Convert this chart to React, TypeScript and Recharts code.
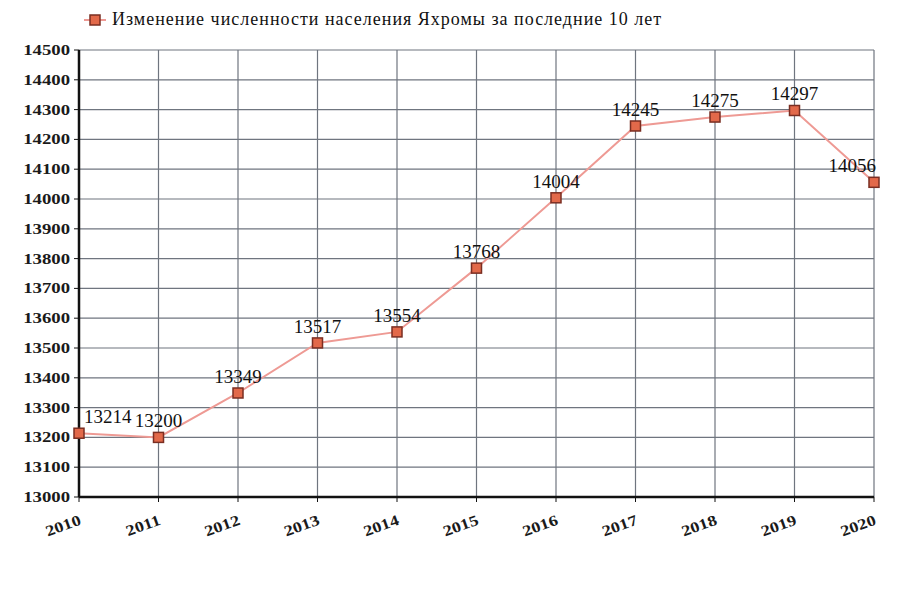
import React from "react";
import { LineChart, Line, XAxis, YAxis, CartesianGrid, LabelList } from "recharts";

const years = ["2010", "2011", "2012", "2013", "2014", "2015", "2016", "2017", "2018", "2019", "2020"];
const population = [13214, 13200, 13349, 13517, 13554, 13768, 14004, 14245, 14275, 14297, 14056];
const yTicks = [13000, 13100, 13200, 13300, 13400, 13500, 13600, 13700, 13800, 13900, 14000, 14100, 14200, 14300, 14400, 14500];
const seriesName = "Изменение численности населения Яхромы за последние 10 лет";

const data = years.map((y, i) => ({ year: y, value: population[i] }));

const FONT = "'Liberation Serif', 'DejaVu Serif', serif";

const SquareDot = (props: any) => {
  const { cx, cy } = props;
  if (cx == null || cy == null) return null;
  return <rect x={cx - 5} y={cy - 5} width={10} height={10} fill="#e2694a" stroke="#7a2e22" strokeWidth={1.5} />;
};

const XTick = (props: any) => {
  const { x, y, payload } = props;
  const tx = x + 3;
  const ty = y + 20;
  return (
    <text
      textAnchor="end"
      fontFamily={FONT}
      fontSize={15}
      fontWeight="bold"
      fill="#1a1a1a"
      transform={`translate(${tx} ${ty}) rotate(-20) scale(1.22 1)`}
    >
      {payload.value}
    </text>
  );
};

const YTick = (props: any) => {
  const { x, y, payload } = props;
  return (
    <text
      textAnchor="end"
      fontFamily={FONT}
      fontSize={15}
      fontWeight="bold"
      fill="#1a1a1a"
      transform={`translate(${x - 2} ${y + 5}) scale(1.25 1)`}
    >
      {payload.value}
    </text>
  );
};

const ValueLabel = (props: any) => {
  const { x, y, value, index } = props;
  let anchor: "start" | "middle" | "end" = "middle";
  let dx = 0;
  if (index === 0) {
    anchor = "start";
    dx = 5;
  } else if (index === years.length - 1) {
    anchor = "end";
    dx = 2;
  }
  return (
    <text x={x + dx} y={y - 10} textAnchor={anchor} fontFamily={FONT} fontSize={19} fill="#111">
      {value}
    </text>
  );
};

export default function App() {
  return (
    <div style={{ position: "absolute", left: 0, top: 0, width: 900, height: 600, background: "#fff" }}>
      <div
        style={{
          position: "absolute",
          left: 84,
          top: 9,
          display: "flex",
          alignItems: "center",
          fontFamily: FONT,
          fontSize: 18,
          letterSpacing: 1,
          color: "#111",
          whiteSpace: "nowrap",
        }}
      >
        <svg width={22} height={12} style={{ marginRight: 6 }}>
          <line x1={0} y1={6} x2={22} y2={6} stroke="#ee9a94" strokeWidth={2} />
          <rect x={6} y={1} width={10} height={10} fill="#e2694a" stroke="#7a2e22" strokeWidth={1.5} />
        </svg>
        <span>{seriesName}</span>
      </div>
      <LineChart width={900} height={600} data={data} margin={{ top: 50, right: 26, bottom: 43, left: 0 }}>
        <CartesianGrid stroke="#6f757f" strokeWidth={1.2} />
        <XAxis
          dataKey="year"
          height={60}
          tick={<XTick />}
          tickLine={{ stroke: "#111" }}
          tickSize={5}
          axisLine={{ stroke: "#111", strokeWidth: 2.5 }}
          interval={0}
          padding={{ left: 0, right: 0 }}
        />
        <YAxis
          width={79}
          domain={[13000, 14500]}
          ticks={yTicks}
          tick={<YTick />}
          tickLine={{ stroke: "#111" }}
          tickSize={5}
          axisLine={{ stroke: "#111", strokeWidth: 2.5 }}
          interval={0}
          allowDataOverflow
        />
        <Line
          type="linear"
          dataKey="value"
          name={seriesName}
          stroke="#ee9a94"
          strokeWidth={2}
          dot={<SquareDot />}
          activeDot={false}
          isAnimationActive={false}
        >
          <LabelList dataKey="value" content={<ValueLabel />} />
        </Line>
      </LineChart>
    </div>
  );
}
